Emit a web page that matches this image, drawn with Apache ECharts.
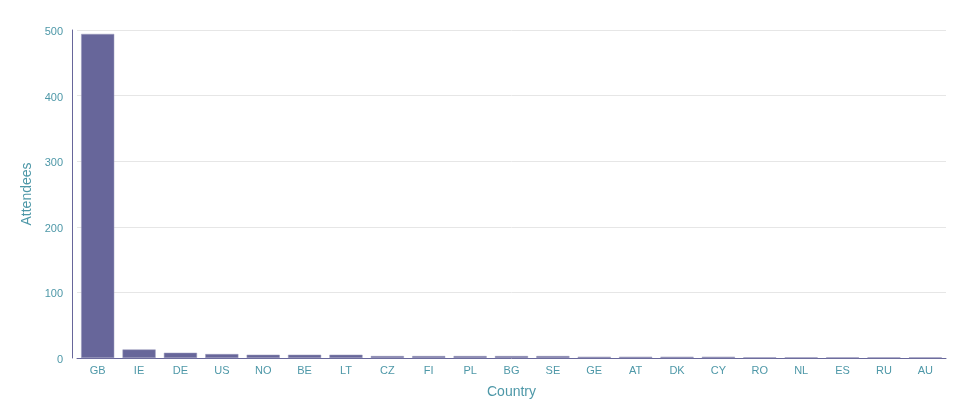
<!DOCTYPE html>
<html>
<head>
<meta charset="utf-8">
<script src="https://cdn.jsdelivr.net/npm/echarts@6/dist/echarts.min.js"></script>
<style>
  html,body{margin:0;padding:0;background:#fff;}
  #main{width:970px;height:400px;}
</style>
</head>
<body>
<div id="main"></div>
<script>
// 国家和参会人数
let countries=['GB','IE','DE','US','NO','BE','LT','CZ','FI','PL','BG','SE','GE','AT','DK','CY','RO','NL','ES','RU','AU'];
let attendees=[494,13,8,6,5,5,5,3,3,3,3,3,2,2,2,2,1,1,1,1,1];
let yTicks=[0,100,200,300,400,500];

let labelColor='#4e98a8';
var myChart=echarts.init(document.getElementById('main'));
myChart.setOption({
    animation:false,
    grid:{left:77,right:24,top:30,bottom:42,containLabel:false,outerBoundsMode:'none'},
    xAxis:{
        type:'category',
        data:countries,
        name:'Country',
        nameLocation:'middle',
        nameGap:27,
        nameTextStyle:{color:labelColor,fontSize:14,fontFamily:'Liberation Sans'},
        axisLine:{lineStyle:{color:'#67669a'}},
        axisTick:{show:false},
        axisLabel:{color:labelColor,fontSize:11,fontFamily:'Liberation Sans',margin:7}
    },
    yAxis:{
        type:'value',
        min:yTicks[0],
        max:yTicks[yTicks.length-1],
        interval:100,
        offset:5,
        name:'Attendees',
        nameLocation:'middle',
        nameGap:34,
        nameTextStyle:{color:labelColor,fontSize:14,fontFamily:'Liberation Sans'},
        axisLine:{show:true,lineStyle:{color:'#67669a'}},
        axisTick:{show:false},
        axisLabel:{color:labelColor,fontSize:11,fontFamily:'Liberation Sans',margin:9,verticalAlign:'top',lineHeight:4},
        splitLine:{lineStyle:{color:'#e6e6e6'}}
    },
    series:[{
        type:'bar',
        data:attendees,
        barCategoryGap:'20%',
        itemStyle:{color:'#67669a',borderColor:'#9b9abd',borderWidth:0.5}
    }]
});
</script>
</body>
</html>
